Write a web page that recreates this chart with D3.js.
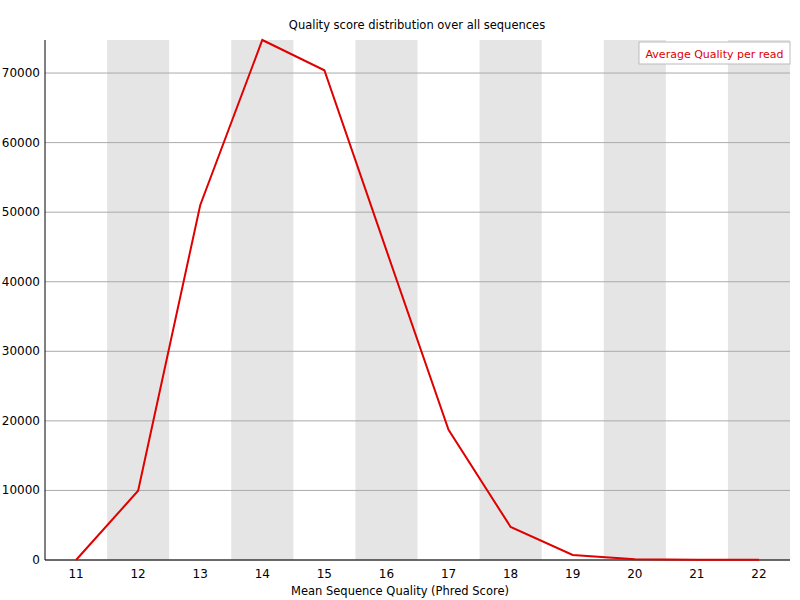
<!DOCTYPE html>
<html><head><meta charset="utf-8">
<script src="https://cdn.jsdelivr.net/npm/d3@7"></script>
<style>body{margin:0;background:#fff}text{font-family:"DejaVu Sans",sans-serif}</style>
</head><body><svg id="chart" width="800" height="600"></svg>
<script>
// Mean quality per read histogram
const qualities = [11, 12, 13, 14, 15, 16, 17, 18, 19, 20, 21, 22];
const counts = [0, 9950, 51000, 74750, 70400, 44500, 18700, 4750, 720, 110, 50, 20];
const yTicks = [0, 10000, 20000, 30000, 40000, 50000, 60000, 70000];

const svg = d3.select('#chart');
const margin = { top: 40, right: 10, bottom: 40, left: 45 };
const width = 800 - margin.left - margin.right;
const height = 600 - margin.top - margin.bottom;

const x = d3.scaleBand().domain(qualities).range([0, width]);
const y = d3.scaleLinear().domain([0, 74750]).range([height, 0]);

const g = svg.append('g').attr('transform', `translate(${margin.left},${margin.top})`);

// alternating background bands
g.selectAll('.band').data(qualities.filter((d, i) => i % 2 === 1)).join('rect')
  .attr('x', d => x(d)).attr('y', 0)
  .attr('width', x.bandwidth()).attr('height', height)
  .attr('fill', '#e5e5e5');

// horizontal grid
g.selectAll('.grid').data(yTicks).join('line')
  .attr('x1', 0).attr('x2', width)
  .attr('y1', d => y(d)).attr('y2', d => y(d))
  .attr('stroke', '#aaa').attr('stroke-width', 1);

// axes
g.append('line').attr('x1', 0).attr('x2', 0).attr('y1', 0).attr('y2', height).attr('stroke', '#000');
g.append('line').attr('x1', 0).attr('x2', width).attr('y1', height).attr('y2', height).attr('stroke', '#000');

g.selectAll('.ylab').data(yTicks).join('text')
  .attr('x', -5).attr('y', d => y(d) + 4)
  .attr('text-anchor', 'end').attr('font-size', 12).text(d => d);

g.selectAll('.xlab').data(qualities).join('text')
  .attr('x', d => x(d) + x.bandwidth() / 2).attr('y', height + 18)
  .attr('text-anchor', 'middle').attr('font-size', 12).text(d => d);

// line
const line = d3.line().x((d, i) => x(qualities[i]) + x.bandwidth() / 2).y(d => y(d));
g.append('path').datum(counts)
  .attr('d', line).attr('fill', 'none')
  .attr('stroke', '#e00000').attr('stroke-width', 2);

// title and axis label
svg.append('text').attr('x', 417).attr('y', 29).attr('text-anchor', 'middle')
  .attr('font-size', 11.5).text('Quality score distribution over all sequences');
svg.append('text').attr('x', 400).attr('y', 595).attr('text-anchor', 'middle')
  .attr('font-size', 11.5).text('Mean Sequence Quality (Phred Score)');

// legend
const lg = svg.append('g');
lg.append('rect').attr('x', 639).attr('y', 42).attr('width', 151).attr('height', 22)
  .attr('fill', '#fff').attr('stroke', '#bbb');
lg.append('text').attr('x', 714.5).attr('y', 58).attr('text-anchor', 'middle')
  .attr('font-size', 11).attr('fill', '#e00000').text('Average Quality per read');
</script></body></html>
